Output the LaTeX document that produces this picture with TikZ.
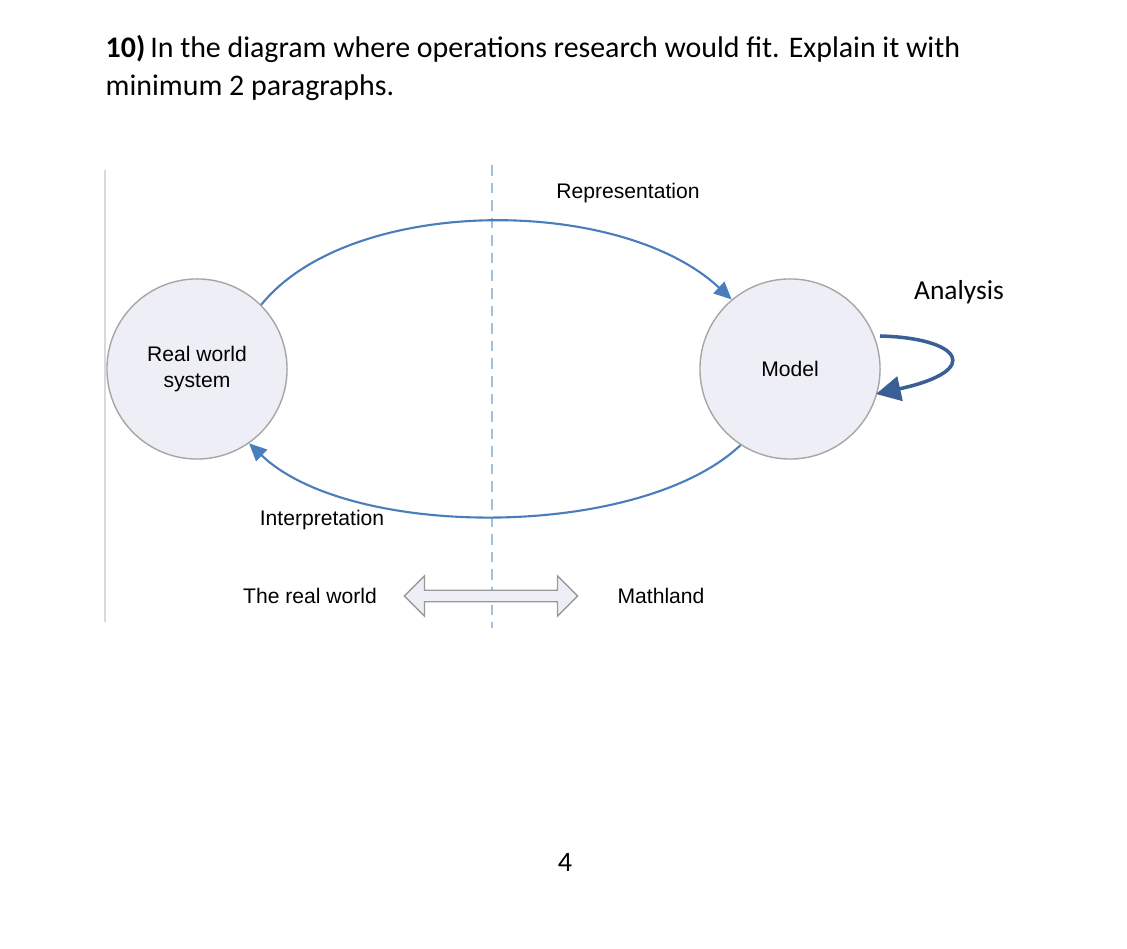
\documentclass[tikz,border=0pt]{standalone}
\usepackage{fontspec}
\setmainfont{Liberation Sans}
\newfontfamily\calfont{Carlito}
\usetikzlibrary{arrows.meta,shapes.arrows}
\definecolor{arc}{HTML}{4A7EBB}
\definecolor{arcd}{HTML}{3A5F95}
\definecolor{cfill}{HTML}{EEEEF6}
\begin{document}
\begin{tikzpicture}[x=0.01cm,y=-0.01cm,
 circ/.style={circle,draw=gray!70,fill=cfill,minimum size=1.8cm,inner sep=0pt,font=\fontsize{6}{7.2}\selectfont,align=center},
 lbl/.style={font=\fontsize{6}{7.2}\selectfont,inner sep=0pt},
 conn/.style={draw=arc,line width=0.6pt,-{Triangle[length=5pt,width=4.5pt]}}]
\useasboundingbox[fill=white] (0,0) rectangle (1127,949);
\node[anchor=north west,font=\calfont\fontsize{8.5}{10.8}\selectfont,align=left,inner sep=0pt] (q) at (105,35) {\textbf{10)}\,In the diagram where operations research would fit. Explain it with\\minimum 2 paragraphs.};
\draw[gray!30,line width=0.4pt] (105,170) -- (105,622);
\coordinate (dt) at (492,165); \coordinate (db) at (492,628);
\draw[arc!50,line width=0.3pt,dash pattern=on 3pt off 2pt] (dt) -- (db);
\node[circ] (rw) at (197,369) {Real world\\system};
\node[circ] (m) at (790,369) {Model};
\draw[conn] (rw.45) .. controls (350,195) and (620,195) .. (m.130);
\draw[conn] (m.237) .. controls (640,540) and (350,540) .. (rw.305);
\coordinate (a1) at (880,336);
\draw[draw=arcd,line width=1pt,-{Triangle[length=7pt,width=7pt]}] (a1) .. controls (960,338) and (985,370) .. (876,394);
\node[lbl] (rep) at (628,193) {Representation};
\node[lbl] (int) at (322,520) {Interpretation};
\node[lbl] (trw) at (310,596) {The real world};
\node[lbl] (ml) at (661,596) {Mathland};
\node[font=\calfont\fontsize{7.8}{9}\selectfont,inner sep=0pt] (an) at (959,292) {Analysis};
\node[draw=gray!80,fill=cfill,double arrow,double arrow head extend=3pt,minimum width=0.4cm,minimum height=1.73cm,inner sep=1pt,line width=0.4pt] (da) at (491,596) {};
\node[font=\calfont\fontsize{8}{9}\selectfont,inner sep=0pt] (pg) at (565,862) {4};
\end{tikzpicture}
\end{document}
